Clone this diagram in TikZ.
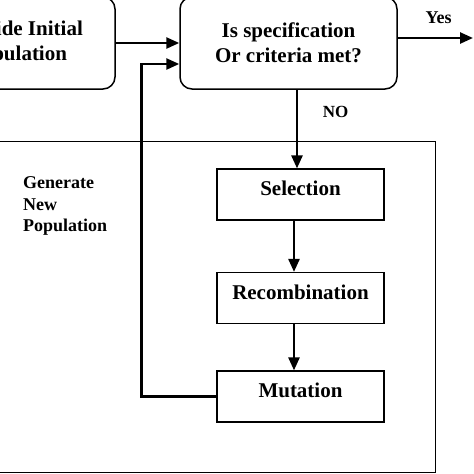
\documentclass[tikz,border=0pt]{standalone}
\usepackage{fontspec}
\setmainfont{Liberation Serif}
\usetikzlibrary{arrows.meta}

\begin{document}
\begin{tikzpicture}[x=1pt, y=-1pt,
    roundbox/.style={draw, line width=1.5pt, rounded corners=12pt, align=center,
      font=\fontsize{21}{25}\selectfont\bfseries},
    stagebox/.style={draw, line width=1.2pt, minimum width=167pt, minimum height=51pt,
      text height=14pt, text depth=12pt, font=\fontsize{21}{25}\selectfont\bfseries},
    flow/.style={line width=2.5pt, -{Triangle[length=13pt,width=11pt]}},
    lbl/.style={inner sep=0pt, font=\fontsize{18}{21.5}\selectfont\bfseries}]
  \useasboundingbox (0,0) rectangle (474,474);

  % Frame round the steps of a new population
  \draw[line width=0.9pt] (-20,141) rectangle (435,472.5);

  % Top row
  \node[roundbox, minimum width=194pt, minimum height=92pt] (init) at (18,43) {Provide Initial\\Population};
  \node[roundbox, minimum width=217pt, minimum height=92pt] (spec) at (288.5,43) {Is specification\\Or criteria met?};
  \coordinate (done) at (473,38);

  % Steps
  \node[stagebox] (sel) at (300.5,194.5) {Selection};
  \node[stagebox] (rec) at (300.5,298) {Recombination};
  \node[stagebox] (mut) at (300.5,396.5) {Mutation};

  % Connectors
  \draw[flow] (init.east) -- (spec.west);
  \draw[flow] (spec.east |- done) -- (done);
  \draw[flow] ([xshift=-3.5pt]sel.north |- spec.south) -- ([xshift=-3.5pt]sel.north);
  \draw[flow] ([xshift=-6.5pt]sel.south) -- ([xshift=-6.5pt]rec.north);
  \draw[flow] ([xshift=-6.5pt]rec.south) -- ([xshift=-6.5pt]mut.north);

  % Back to the test
  \draw[flow] (mut.west) -- ++(-75,0) |- ([yshift=-21pt]spec.west);

  % Labels
  \node[lbl] (yeslbl) at (438.5,17.5) {Yes};
  \node[lbl, font=\fontsize{17}{20}\selectfont\bfseries] (nolbl) at (335.5,112) {NO};
  \node[lbl, align=left, anchor=west] (genlbl) at (23,206) {Generate\\New\\Population};
\end{tikzpicture}
\end{document}
